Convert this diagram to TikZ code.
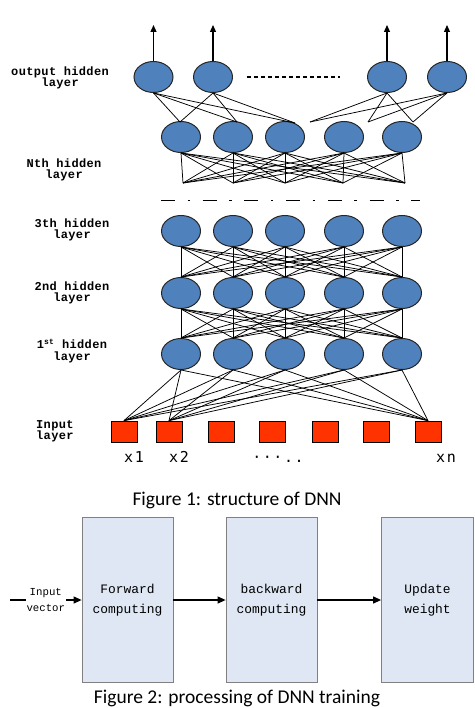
\documentclass[tikz,border=0pt]{standalone}
\usepackage{fontspec}
\setmainfont{Liberation Serif}
\newfontfamily\lblfont[LetterSpace=3]{Liberation Mono}
\newfontfamily\xfont[LetterSpace=10]{DejaVu Sans Mono}
\newfontfamily\boxfont{Liberation Mono}
\newfontfamily\capfont{Carlito}
\usetikzlibrary{shapes.geometric,arrows.meta}
\definecolor{nblue}{RGB}{79,129,189}
\definecolor{nred}{RGB}{255,51,0}
\definecolor{pfill}{RGB}{222,231,243}
\tikzset{
  neuron/.style={ellipse,draw=black!85,line width=1pt,fill=nblue,minimum width=39pt,minimum height=31pt,inner sep=0pt},
  inp/.style={rectangle,draw=black,line width=0.8pt,fill=nred,minimum width=26pt,minimum height=21pt,inner sep=0pt},
  edge/.style={line width=0.75pt,black},
  uparr/.style={line width=1.2pt,-{Triangle[length=7pt,width=6pt]}},
  lbl/.style={font=\lblfont\bfseries\fontsize{12}{11.5}\selectfont,align=center,inner sep=0pt},
  xlbl/.style={font=\xfont\fontsize{15}{16}\selectfont,anchor=base,inner sep=0pt},
  pbox/.style={rectangle,draw=black!50,line width=0.8pt,fill=pfill,minimum width=91pt,minimum height=165pt,align=center,font=\boxfont\fontsize{12.9}{20}\selectfont,inner sep=0pt},
  parr/.style={line width=1.2pt,-{Triangle[length=8pt,width=7pt]}},
  figcap/.style={font=\capfont\fontsize{19.5}{22}\selectfont,anchor=base,inner sep=0pt}
}
\begin{document}
\begin{tikzpicture}[x=1pt,y=-1pt]
\useasboundingbox (0,0) rectangle (474,708);
% output layer
\foreach \x/\n in {153.5/1,213/2,387/3,447/4}{
  \node[neuron] (o\n) at (\x,77) {};
  \coordinate (t\n) at (\x,25);
  \draw[uparr] (o\n.north) -- (t\n);
}
\coordinate (dl) at (247,77); \coordinate (dr) at (340,77);
\draw[line width=1.1pt,dash pattern=on 4pt off 3pt] (dl) -- (dr);
% hidden layers
\foreach \x/\n in {181/1,233/2,285/3,344/4,402/5}{
  \node[neuron] (nn\n) at (\x,137) {};
  \node[neuron] (c\n) at (\x,231) {};
  \node[neuron] (b\n) at (\x,293) {};
  \node[neuron] (a\n) at (\x,354) {};
}
% output to N-th (free ends)
\coordinate (ol1) at (180,122); \coordinate (ol2) at (237,122); \coordinate (ol3) at (295,123);
\coordinate (or1) at (310,122); \coordinate (or2) at (368,122); \coordinate (or3) at (413,122);
\foreach \o in {1,2}{\foreach \e in {1,2,3}{\draw[edge] (o\o.south) -- (ol\e);}}
\foreach \o in {3,4}{\foreach \e in {1,2,3}{\draw[edge] (o\o.south) -- (or\e);}}
% N-th to free ends
\foreach \x/\n in {183/1,233/2,285/3,343/4,405/5}{\coordinate (e\n) at (\x,183);}
\foreach \i in {1,...,5}{\foreach \j in {1,...,5}{\draw[edge] (nn\i.south) -- (e\j);}}
% dash-dot separator
\coordinate (sl) at (161,200.7); \coordinate (sr) at (420,200.7);
\draw[line width=1.3pt,dash pattern=on 14pt off 12.5pt on 2.5pt off 12.7pt] (sl) -- (sr);
% full connections
\foreach \i in {1,...,5}{\foreach \j in {1,...,5}{
  \draw[edge] (c\i.south) -- (b\j.north);
  \draw[edge] (b\i.south) -- (a\j.north);
}}
% inputs
\foreach \x/\n in {124/1,169/2,221/3,272/4,325/5,376/6,428/7}{
  \node[inp] (x\n) at (\x,431.5) {};
}
\foreach \i in {1,...,5}{\foreach \j in {1,2,7}{\draw[edge] (a\i.south) -- (x\j.north);}}
% labels
\node[lbl] (lo) at (60,78) {output hidden\\layer};
\node[lbl] (ln) at (64,170) {Nth hidden\\layer};
\node[lbl] (l3) at (72,230) {3th hidden\\layer};
\node[lbl] (l2) at (72,293) {2nd hidden\\layer};
\node[lbl] (l1) at (72,351) {1\textsuperscript{st} hidden\\layer};
\node[lbl,align=left,anchor=west] (li) at (36,431) {Input\\layer};
\node[xlbl] (xl1) at (134,462) {x1};
\node[xlbl] (xl2) at (179,462) {x2};
\node[xlbl] (xld) at (278,462) {···..};
\node[xlbl] (xln) at (446,462) {xn};
\node[figcap] (cap1) at (237,505) {Figure 1: structure of DNN};
% figure 2
\node[pbox] (fw) at (127.5,600) {Forward\\computing};
\node[pbox] (bw) at (271.5,600) {backward\\computing};
\node[pbox,minimum width=92pt] (uw) at (427.5,600) {Update\\weight};
\coordinate (inp) at (10,600);
\draw[parr] (inp) -- node[fill=white,inner sep=1pt,align=center,font=\boxfont\fontsize{10.7}{16}\selectfont]{Input\\vector} (fw.west);
\draw[parr] (fw.east) -- (bw.west);
\draw[parr] (bw.east) -- (uw.west);
\node[figcap] (cap2) at (237,703) {Figure 2: processing of DNN training};
\end{tikzpicture}
\end{document}
